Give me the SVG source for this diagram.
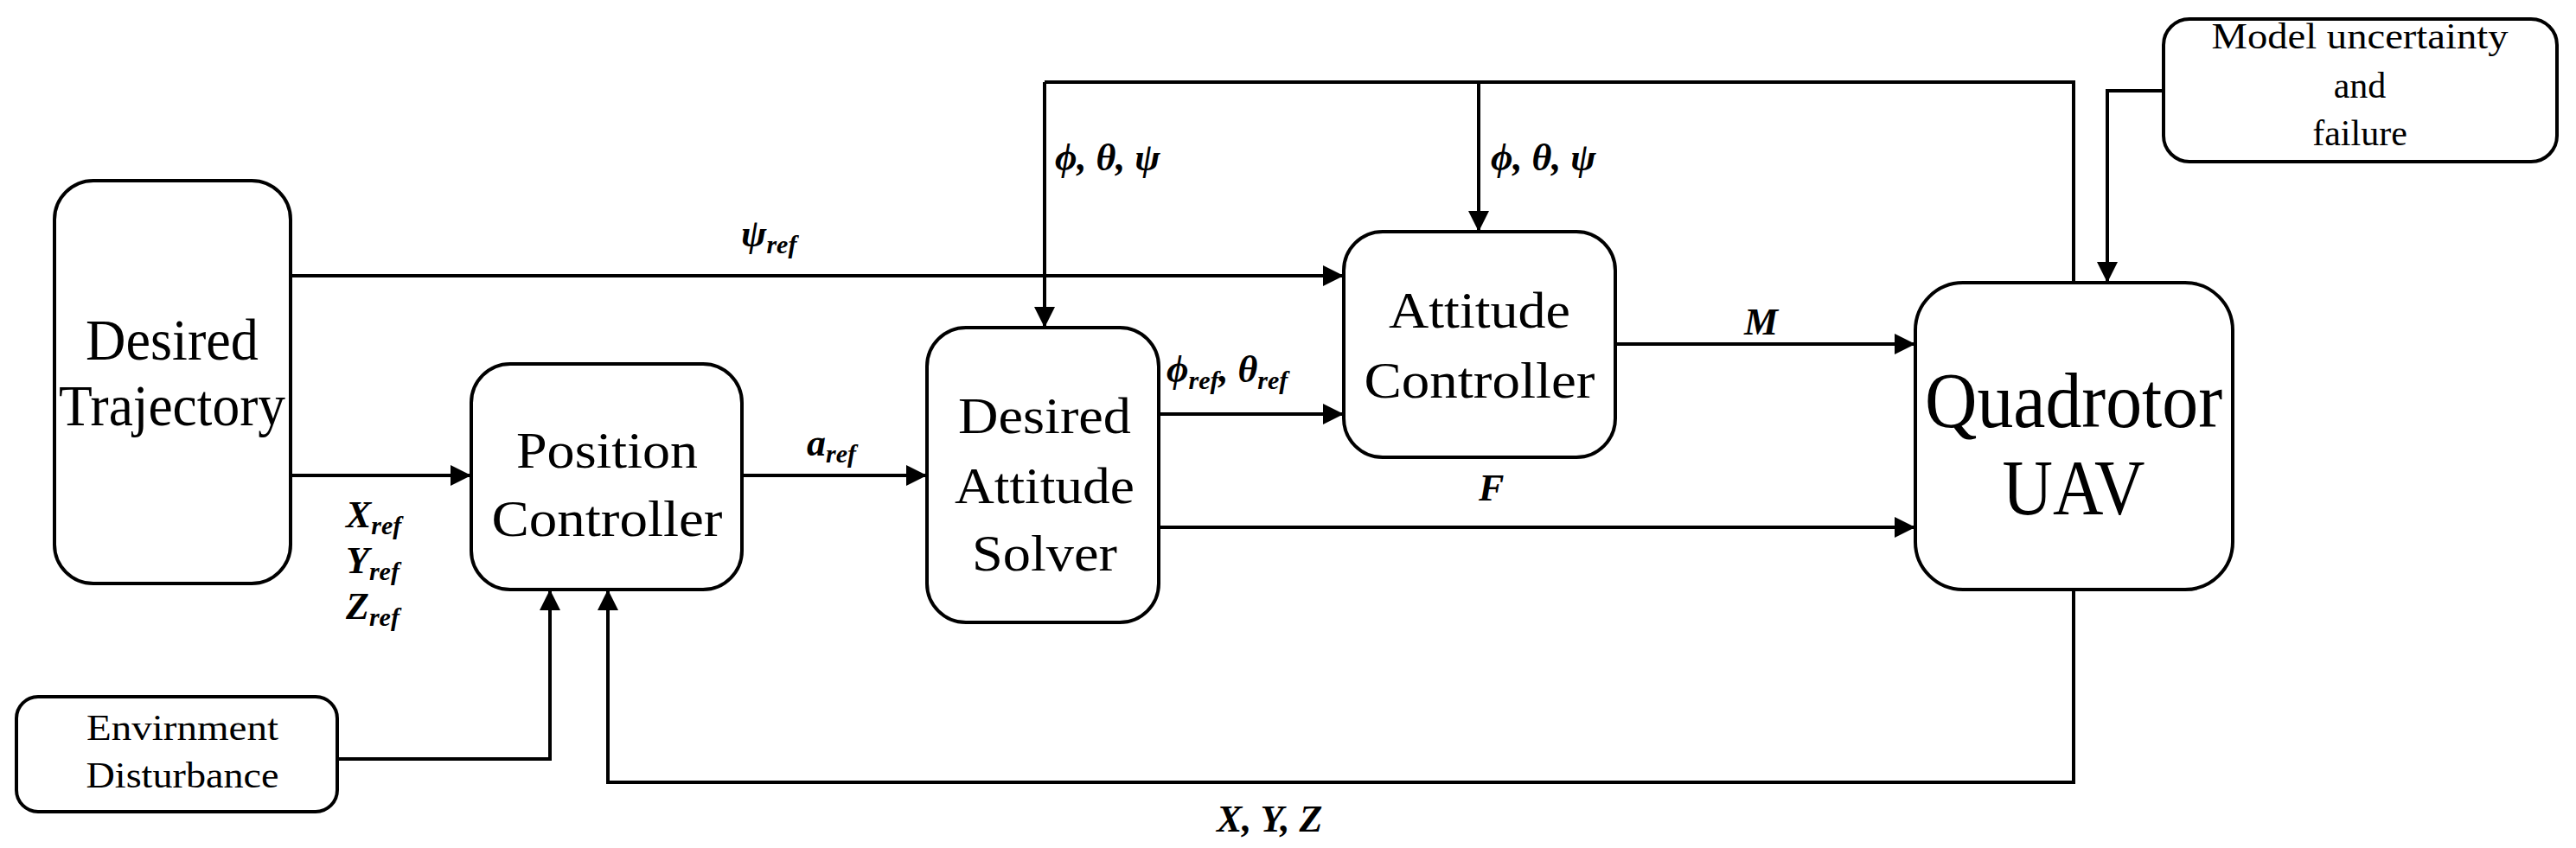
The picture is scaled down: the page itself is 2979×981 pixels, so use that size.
<svg xmlns="http://www.w3.org/2000/svg" width="2979" height="981" viewBox="0 0 2979 981">
<defs>
<marker id="ah" viewBox="0 0 10 10" refX="10" refY="5" markerWidth="26" markerHeight="24" orient="auto" markerUnits="userSpaceOnUse">
<path d="M0,0 L10,5 L0,10 Z" fill="#000"/>
</marker>
<style>
.box{fill:#fff;stroke:#000;stroke-width:4}
.t{text-anchor:middle;fill:#000}
.c{fill:none;stroke:#000;stroke-width:4}
.a{marker-end:url(#ah)}
.m{font-weight:bold;font-style:italic;font-size:44px;fill:#000}
.s{font-size:30px}
</style>
</defs>
<rect width="2979" height="981" fill="#fff"/>
<g id="connectors">
<path class="c" d="M1208,95 H2398 V327"/>
<path class="c a" d="M1208,95 V379"/>
<path class="c a" d="M1710,95 V268"/>
<path class="c a" d="M336,319 H1554"/>
<path class="c a" d="M336,550 H545"/>
<path class="c a" d="M858,550 H1072"/>
<path class="c a" d="M1340,479 H1554"/>
<path class="c a" d="M1340,610 H2215"/>
<path class="c a" d="M1868,398 H2215"/>
<path class="c a" d="M2502,105 H2437 V327"/>
<path class="c a" d="M2398,682 V905 H703 V682"/>
<path class="c a" d="M390,878 H636 V682"/>
</g>
<g font-family="'Liberation Serif','Times New Roman','DejaVu Serif',serif">
<g id="traj"><rect class="box" x="63" y="209" width="273" height="466" rx="45"/>
<text class="t" font-size="68" x="199" y="416" textLength="200" lengthAdjust="spacingAndGlyphs">Desired</text>
<text class="t" font-size="68" x="199" y="492" textLength="262" lengthAdjust="spacingAndGlyphs">Trajectory</text></g>
<g id="pos"><rect class="box" x="545" y="421" width="313" height="261" rx="45"/>
<text class="t" font-size="60" x="702" y="541" textLength="210" lengthAdjust="spacingAndGlyphs">Position</text>
<text class="t" font-size="60" x="702" y="620" textLength="267" lengthAdjust="spacingAndGlyphs">Controller</text></g>
<g id="solver"><rect class="box" x="1072" y="379" width="268" height="341" rx="45"/>
<text class="t" font-size="60" x="1208" y="501" textLength="200" lengthAdjust="spacingAndGlyphs">Desired</text>
<text class="t" font-size="60" x="1208" y="582" textLength="208" lengthAdjust="spacingAndGlyphs">Attitude</text>
<text class="t" font-size="60" x="1208" y="660" textLength="168" lengthAdjust="spacingAndGlyphs">Solver</text></g>
<g id="att"><rect class="box" x="1554" y="268" width="314" height="261" rx="45"/>
<text class="t" font-size="60" x="1711" y="379" textLength="210" lengthAdjust="spacingAndGlyphs">Attitude</text>
<text class="t" font-size="60" x="1711" y="460" textLength="267" lengthAdjust="spacingAndGlyphs">Controller</text></g>
<g id="quad"><rect class="box" x="2215" y="327" width="367" height="355" rx="55"/>
<text class="t" font-size="92" x="2398" y="494" textLength="344" lengthAdjust="spacingAndGlyphs">Quadrotor</text>
<text class="t" font-size="92" x="2398" y="595" textLength="165" lengthAdjust="spacingAndGlyphs">UAV</text></g>
<g id="model"><rect class="box" x="2502" y="22" width="455" height="165" rx="30"/>
<text class="t" font-size="42" x="2729" y="56" textLength="343" lengthAdjust="spacingAndGlyphs">Model uncertainty</text>
<text class="t" font-size="42" x="2729" y="113">and</text>
<text class="t" font-size="42" x="2729" y="168">failure</text></g>
<g id="env"><rect class="box" x="19" y="806" width="371" height="133" rx="25"/>
<text class="t" font-size="42" x="211" y="856" textLength="222" lengthAdjust="spacingAndGlyphs">Envirnment</text>
<text class="t" font-size="42" x="211" y="911" textLength="223" lengthAdjust="spacingAndGlyphs">Disturbance</text></g>
<g id="labels">
<text class="m" x="1220" y="197">ϕ, θ, ψ</text>
<text class="m" x="1724" y="197">ϕ, θ, ψ</text>
<text class="m" x="857" y="285">ψ<tspan class="s" dy="8">ref</tspan></text>
<text class="m" x="400" y="610">X<tspan class="s" dy="8">ref</tspan></text>
<text class="m" x="400" y="663">Y<tspan class="s" dy="8">ref</tspan></text>
<text class="m" x="400" y="716">Z<tspan class="s" dy="8">ref</tspan></text>
<text class="m" x="933" y="527">a<tspan class="s" dy="8">ref</tspan></text>
<text class="m" x="1349" y="442">ϕ<tspan class="s" dy="8">ref</tspan><tspan dy="-8">, θ</tspan><tspan class="s" dy="8">ref</tspan></text>
<text class="m" x="2017" y="387">M</text>
<text class="m" x="1710" y="579">F</text>
<text class="m" x="1407" y="962">X, Y, Z</text>
</g>
</g>
</svg>
